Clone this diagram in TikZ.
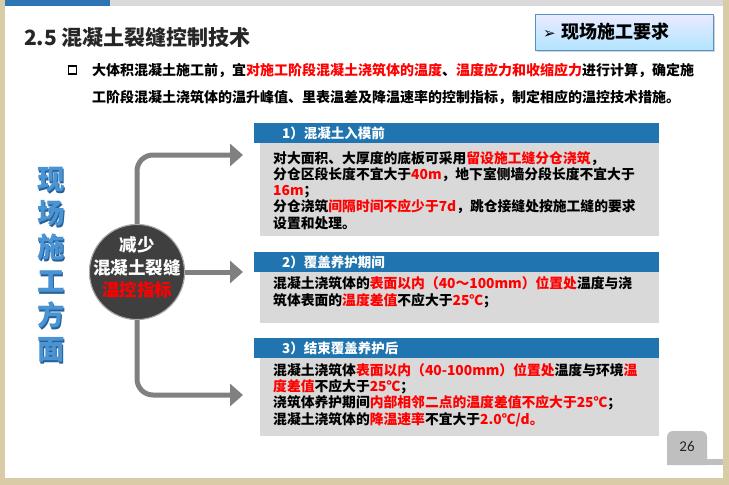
\documentclass[tikz,border=0pt]{standalone}
\usepackage{fontspec}
\setmainfont{Noto Sans CJK SC}
\newfontfamily\symfont{DejaVu Sans}
\newfontfamily\numfont{Carlito}
\usetikzlibrary{positioning,arrows.meta,shadows}
\definecolor{paper}{HTML}{DACBA7}
\definecolor{topblue}{HTML}{2E75B6}
\definecolor{topgray}{HTML}{D9D9D9}
\definecolor{hdblue}{HTML}{2074AF}
\definecolor{bodygray}{HTML}{D9D9D9}
\definecolor{arrgray}{HTML}{808080}
\definecolor{circ}{HTML}{3F3F3F}
\definecolor{ink}{HTML}{262626}
\definecolor{vblue}{HTML}{4A94D4}
\definecolor{vshadow}{HTML}{245F98}
\definecolor{alert}{HTML}{FF0000}
\definecolor{pgray}{HTML}{BFBFBF}
\newcommand{\rd}[1]{\textcolor{alert}{#1}}
\newcommand{\fs}[2]{\fontsize{#1}{#2}\selectfont}

\begin{document}
\begin{tikzpicture}[x=1pt,y=-1pt,
  hd/.style={fill=hdblue, minimum width=405pt, minimum height=19.5pt, inner sep=0pt, anchor=north west},
  bd/.style={fill=bodygray, minimum width=399pt, inner sep=0pt, anchor=north east},
  hdtxt/.style={text=white, font=\fs{13.5}{16}\bfseries, inner sep=0pt, anchor=west},
  txt/.style={align=left, font=\fs{13.8}{16.3}\bfseries, inner sep=0pt, anchor=north west},
  arr/.style={draw=arrgray, line width=5pt, rounded corners=16pt, -{Triangle[width=22pt,length=13pt]}}]
  \useasboundingbox (0,0) rectangle (729,485);
  \fill[paper] (0,0) rectangle (729,485);
  \fill[white] (5,0) rectangle (723,478);
  \fill[topblue] (5,0) rectangle (110,6);
  \fill[topgray] (110,0) rectangle (723,6);

  \node[anchor=west, inner sep=0pt, text=ink, font=\fs{21}{24}\bfseries] (title) at (24,37) {2.5 混凝土裂缝控制技术};
  \node[draw=topblue!80, top color=blue!8, bottom color=blue!35!cyan!30, minimum width=178pt, minimum height=36pt,
    drop shadow={opacity=0.35, shadow xshift=1.5pt, shadow yshift=-1.5pt}] (req) at (624,32) {};
  \node[right=8pt of req.west, inner sep=0pt, font=\fs{18}{20}\bfseries] (reqtxt) {{\symfont\fs{15}{17}➢}\hspace{6pt}现场施工要求};

  \node[draw, line width=1.3pt, minimum size=8pt, inner sep=0pt] (sq) at (72.5,70) {};
  \node[anchor=west, inner sep=0pt, font=\fs{14}{16}\bfseries] (bl1) at (92,70)
    {大体积混凝土施工前，宜\rd{对施工阶段混凝土浇筑体的温度}、\rd{温度应力和收缩应力}进行计算，确定施};
  \node[anchor=west, inner sep=0pt, font=\fs{14}{16}\bfseries] (bl2) at (92,97)
    {工阶段混凝土浇筑体的温升峰值、里表温差及降温速率的控制指标，制定相应的温控技术措施。};

  \node[text=vshadow, align=center, font=\fs{27.5}{34}\bfseries] (vsh) at (52.5,266.5) {现\\场\\施\\工\\方\\面};
  \node[text=vblue, align=center, font=\fs{27.5}{34}\bfseries] (vert) at (51,265) {现\\场\\施\\工\\方\\面};

  \coordinate (a1) at (243,155);
  \coordinate (a2) at (243,272);
  \coordinate (a3) at (243,395);
  \node[circle, fill=circ, draw=gray!65, line width=1pt, minimum size=95pt, inner sep=0pt] (ctr) at (137,272) {};
  \draw[arr] (ctr) |- (a1);
  \draw[arr] (ctr) -- (a2);
  \draw[arr] (ctr) |- (a3);
  \node[circle, fill=circ, draw=gray!65, line width=1pt, minimum size=95pt, inner sep=0pt] at (ctr) {};
  \node[align=center, text=white, font=\fs{17.5}{22.5}\bfseries, yshift=4.5pt] (ctrtxt) at (ctr) {减少\\混凝土裂缝\\\rd{温控指标}};

  \node[hd] (hd1) at (254,123) {};
  \node[bd, minimum height=93pt] (bd1) at (hd1.south east) {};
  \node[hdtxt, right=28pt of hd1.west] {1）混凝土入模前};
  \node[txt] (t1) at ([xshift=13pt,yshift=-8pt]bd1.north west)
    {对大面积、大厚度的底板可采用\rd{留设施工缝分仓浇筑}，\\
     分仓区段长度不宜大于\rd{40m}，地下室侧墙分段长度不宜大于\\
     \rd{16m}；\\
     分仓浇筑\rd{间隔时间不应少于7d}，跳仓接缝处按施工缝的要求\\
     设置和处理。};

  \node[hd] (hd2) at (254,252) {};
  \node[bd, minimum height=51pt] (bd2) at (hd2.south east) {};
  \node[hdtxt, right=28pt of hd2.west] {2）覆盖养护期间};
  \node[txt, font=\fs{13.8}{17}\bfseries] (t2) at ([xshift=13pt,yshift=-4pt]bd2.north west)
    {混凝土浇筑体的\rd{表面以内（40～100mm）位置处}温度与浇\\
     筑体表面的\rd{温度差值}不应大于\rd{25℃}；};

  \node[hd] (hd3) at (254,338) {};
  \node[bd, minimum height=78pt] (bd3) at (hd3.south east) {};
  \node[hdtxt, right=28pt of hd3.west] {3）结束覆盖养护后};
  \node[txt] (t3) at ([xshift=13pt,yshift=-5pt]bd3.north west)
    {混凝土浇筑体\rd{表面以内（40-100mm）位置处}温度与环境\rd{温}\\
     \rd{度差值}不应大于\rd{25℃}；\\
     浇筑体养护期间\rd{内部相邻二点的温度差值不应大于25℃}；\\
     混凝土浇筑体的\rd{降温速率}不宜大于\rd{2.0℃/d。}};

  \fill[pgray] (667,465) -- (667,437) arc[start angle=180,end angle=270,radius=6] -- (701,431)
    arc[start angle=270,end angle=360,radius=6] -- (707,465) -- cycle;
  \fill[pgray] (707,459) rectangle (723,465);
  \node[text=ink, font=\numfont\fs{15}{17}] (pg) at (687,446) {26};
\end{tikzpicture}
\end{document}
